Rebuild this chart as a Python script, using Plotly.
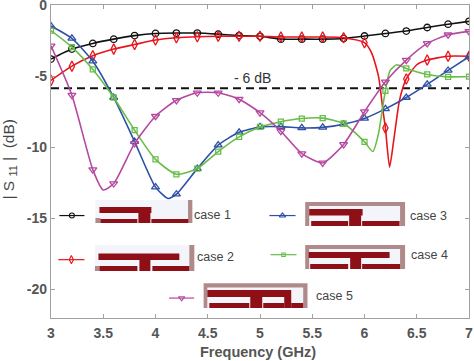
import plotly.graph_objects as go

W, H = 474, 361
L, R, T, B = 50.5, 469, 5, 318

freq = [round(3 + 0.2 * i, 1) for i in range(21)]
case1 = [-3.8, -3.1, -2.7, -2.4, -2.15, -2.0, -1.97, -1.97, -2.05, -2.15, -2.2, -2.4, -2.4, -2.4, -2.35, -2.18, -2.0, -1.83, -1.58, -1.35, -1.15]
case2 = [-5.3, -4.3, -3.57, -3.1, -2.78, -2.46, -2.3, -2.23, -2.2, -2.2, -2.2, -2.25, -2.25, -2.25, -2.3, -2.65, -8.64, -5.2, -3.87, -3.6, -3.6]
case3 = [-1.48, -2.35, -3.95, -6.5, -9.6, -12.8, -13.3, -11.5, -9.85, -8.95, -8.57, -8.55, -8.64, -8.6, -8.38, -7.97, -7.3, -6.5, -5.58, -4.6, -3.64]
case4 = [-1.8, -2.96, -4.53, -6.5, -8.8, -10.85, -11.9, -11.5, -10.3, -9.27, -8.57, -8.2, -7.98, -7.95, -8.33, -9.62, -6.03, -4.46, -4.88, -5.05, -5.03]
case5 = [-2.87, -6.34, -11.57, -12.55, -9.73, -7.82, -6.7, -6.17, -6.17, -6.62, -7.56, -8.87, -10.45, -11.1, -9.8, -7.5, -5.4, -3.87, -2.7, -2.09, -1.85]

extra2 = {6.07: -3.4, 6.135: -5.05, 6.18: -7.6, 6.24: -11.4, 6.28: -9.5, 6.335: -6.7, 6.5: -4.2}
extra3 = {4.12: -13.6}
extra4 = {6.08: -10.3, 6.135: -9.0, 6.18: -6.9, 6.245: -4.6, 6.31: -4.2}
extra5 = {3.5: -13.0}

threshold = -5.85
names = ["case 1", "case 2", "case 3", "case 4", "case 5"]
series = [case1, case2, case3, case4, case5]
extras = [{}, extra2, extra3, extra4, extra5]
colors = ["#111111", "#e8141c", "#2f51a5", "#68bd4a", "#b5489f"]
symbols = ["circle-open", "diamond-tall-open", "triangle-up-open", "square-open", "triangle-down-open"]
sizes = [6.5, 7.5, 7, 5, 7]

key_x = [[3.08, 3.32], [3.07, 3.32], [5.09, 5.34], [5.10, 5.35], [4.13, 4.37]]
key_y = [-14.8, -17.9, -14.8, -17.55, -20.6]
label_x = [192, 194.5, 407.5, 408.5, 313.5]
label_y = [215, 257, 216, 255, 296]

fig = go.Figure()
fig.add_trace(go.Scatter(x=[3, 7], y=[threshold, threshold], mode="lines",
                         line=dict(color="#111111", width=2, dash="8px,5px"), showlegend=False))

for s, e, c, m, z in zip(series, extras, colors, symbols, sizes):
    pts = sorted(list(zip(freq, s)) + list(e.items()))
    fig.add_trace(go.Scatter(x=[p[0] for p in pts], y=[p[1] for p in pts], mode="lines",
                             line=dict(color=c, width=1.6, shape="spline", smoothing=0.6), showlegend=False))
    fig.add_trace(go.Scatter(x=freq, y=s, mode="markers",
                             marker=dict(symbol=m, size=z, color=c, line=dict(width=1.3, color=c)), showlegend=False))

for kx, ky, c, m, z in zip(key_x, key_y, colors, symbols, sizes):
    fig.add_trace(go.Scatter(x=kx, y=[ky, ky], mode="lines", line=dict(color=c, width=1.2), showlegend=False))
    fig.add_trace(go.Scatter(x=[(kx[0] + kx[1]) / 2], y=[ky], mode="markers",
                             marker=dict(symbol=m, size=z - 1.5, color=c, line=dict(width=1.1, color=c)), showlegend=False))


def px(x):
    return (x - L) / (R - L)


def py(y):
    return (B - y) / (B - T)


shapes = []


def rect(x0, y0, x1, y1, col):
    shapes.append(dict(type="rect", xref="paper", yref="paper", x0=px(x0), x1=px(x1),
                       y0=py(y0), y1=py(y1), fillcolor=col, line=dict(width=0), layer="above"))


DARK, LIGHT, PALE = "#8e1016", "#b08a8a", "#f3f5fa"
# case 1 icon
rect(95, 200, 192, 223, PALE); rect(187.7, 200, 192, 223, LIGHT); rect(95, 218, 100, 223, LIGHT)
rect(99, 207, 151, 213, DARK); rect(138, 213, 150, 223, DARK); rect(100, 219, 137, 223, DARK); rect(151, 219, 188, 223, DARK)
# case 2 icon
rect(94.5, 245, 194, 271, PALE); rect(189, 245, 194, 271, LIGHT); rect(94.5, 266, 99, 271, LIGHT)
rect(98, 253.5, 179, 260, DARK); rect(139, 260, 150, 271, DARK); rect(99, 266, 137, 271, DARK); rect(152, 266, 189, 271, DARK)
# case 3 icon
rect(305, 202, 405, 226, LIGHT); rect(309, 206, 400, 226, PALE)
rect(309, 209, 362.5, 215.5, DARK); rect(349, 215, 361, 226, DARK); rect(311, 221, 348, 226, DARK); rect(362, 221, 399.5, 226, DARK)
# case 4 icon
rect(305, 245, 405, 269, LIGHT); rect(309, 249, 400, 269, PALE)
rect(308.5, 252, 389.5, 258, DARK); rect(350, 258, 361, 269, DARK); rect(310, 264, 348, 269, DARK); rect(362, 264, 400, 269, DARK)
# case 5 icon
rect(203.3, 283.3, 307.3, 308, LIGHT); rect(207, 287.5, 303, 308, PALE)
rect(207, 290, 291, 297, DARK); rect(250, 297, 262, 308, DARK); rect(284, 297, 291, 308, DARK)
rect(209, 303, 249, 308, DARK); rect(263, 303, 284, 308, DARK); rect(291, 303, 303, 308, DARK)

annotations = []
for n, x, y in zip(names, label_x, label_y):
    annotations.append(dict(text=n, xref="paper", yref="paper", x=px(x), y=py(y), xanchor="left", yanchor="middle",
                            showarrow=False, font=dict(family="Liberation Sans", size=12.5, color="#444444")))
annotations.append(dict(text="- 6 dB", xref="paper", yref="paper", x=px(252), y=py(78), xanchor="center", yanchor="middle",
                        showarrow=False, font=dict(family="Liberation Sans", size=14, color="#333333")))
annotations.append(dict(text="|\u00a0S\u00a0<sub>11</sub>\u00a0|\u00a0\u00a0(dB)", xref="paper", yref="paper", x=px(8), y=py(160), textangle=-90,
                        xanchor="center", yanchor="middle", showarrow=False,
                        font=dict(family="Liberation Sans", size=15.5, color="#444444")))
annotations.append(dict(text="Frequency (GHz)", xref="paper", yref="paper", x=px(258), y=py(352), xanchor="center", yanchor="middle",
                        showarrow=False, font=dict(family="Liberation Sans", size=14.5, weight=700, color="#555555")))

axis = dict(showgrid=False, zeroline=False, showline=True, mirror="ticks", linecolor="#a0a0a0", linewidth=1.2,
            ticks="inside", ticklen=4, tickcolor="#a0a0a0", ticklabeloverflow="allow", automargin=False,
            tickfont=dict(family="Liberation Sans", size=14, weight=700, color="#555555"))
fig.update_layout(width=W, height=H, autosize=False, paper_bgcolor="white", plot_bgcolor="white",
                  margin=dict(l=L, r=W - R, t=T, b=H - B), shapes=shapes, annotations=annotations,
                  xaxis=dict(range=[3, 7], tickvals=[3, 3.5, 4, 4.5, 5, 5.5, 6, 6.5, 7], ticklabelstandoff=2,
                             ticktext=["3", "3.5", "4", "4.5", "5", "5.5", "6", "6.5", "7"], **axis),
                  yaxis=dict(range=[-22, 0], tickvals=[0, -5, -10, -15, -20],
                             ticktext=["0", "-5", "-10", "-15", "-20"], **axis))
fig.write_html("out.html", config=dict(displayModeBar=False),
               post_script="document.body.style.margin='0';document.documentElement.style.overflow='hidden';")
